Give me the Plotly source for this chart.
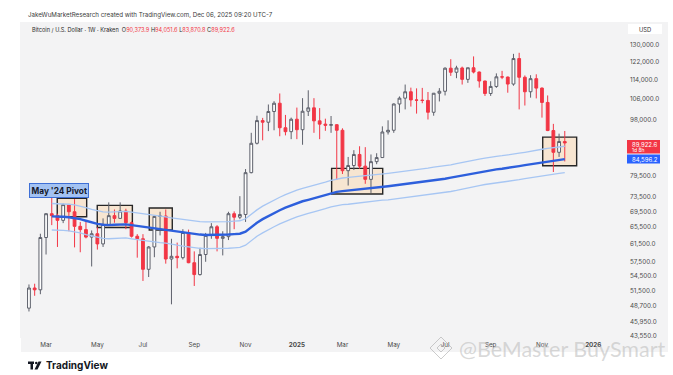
import math
import pandas as pd
import plotly.graph_objects as go

# ---------------- data ----------------
week_start = "2024-02-12"   # first weekly bar
opens = [48300, 52100, 51750, 63000, 68900, 68400, 67200, 71300, 69400, 65700,
         64900, 63100, 63900, 61500, 66200, 68400, 67700, 69600, 66600, 63300,
         62700, 55900, 60800, 68200, 68300, 58100, 58700, 58400, 64200, 57300,
         54800, 59100, 63500, 65600, 62800, 63200, 68900, 68000, 68700, 80400,
         89800, 97800, 97200, 101200, 104400, 95200, 93800, 98300, 94500, 101300,
         102600, 97700, 96500, 96100, 96300, 94300, 81000, 82600, 86100, 82400,
         78400, 83800, 85100, 93700, 94300, 104100, 106400, 109000, 105700, 105600,
         105500, 100900, 108400, 109200, 119100, 117300, 119200, 114200, 119300, 117400,
         113500, 108300, 111200, 115300, 115200, 112200, 123500, 115100, 109000, 114500,
         110500, 104700, 94200, 86800, 90373.9]
highs = [52800, 52950, 63900, 69000, 73800, 68900, 71600, 71500, 72800, 66800,
         67200, 64700, 65500, 67700, 71900, 70000, 71900, 70200, 66950, 63800,
         63800, 61000, 68400, 69400, 70000, 62700, 61800, 65000, 64900, 59800,
         60600, 64100, 66500, 66000, 64500, 69400, 69500, 73600, 81500, 93400,
         99600, 98800, 103900, 105200, 108300, 99900, 98900, 102700, 106400, 109600,
         106400, 102500, 98500, 99500, 96500, 95000, 85300, 87500, 88800, 88500,
         86100, 86500, 95700, 97900, 104300, 107100, 112000, 110700, 110400, 110600,
         108900, 108500, 110500, 119500, 123200, 120200, 119800, 119300, 124500, 117600,
         113600, 113400, 116800, 117900, 115400, 125700, 126200, 115900, 116000, 116400,
         110800, 107500, 96600, 93100, 94051.6]
lows = [47700, 50600, 50900, 59100, 66000, 60800, 66500, 64500, 60700, 59600,
        62800, 56500, 60200, 60800, 66200, 66600, 67600, 65000, 63000, 58400,
        53500, 54300, 58500, 63500, 57100, 49000, 56100, 58000, 57200, 52500,
        54600, 57500, 62700, 59800, 58900, 62400, 65000, 67500, 66800, 80200,
        89400, 90800, 94000, 94300, 92200, 92500, 91200, 91200, 89300, 99500,
        93400, 91200, 94100, 93400, 78200, 80000, 76600, 81200, 81600, 77100,
        74500, 83000, 85100, 92800, 93400, 100700, 102000, 103100, 100400, 104400,
        98200, 99600, 105100, 107500, 115700, 114700, 112000, 112700, 116800, 110700,
        107300, 107300, 110600, 114300, 108600, 111500, 102000, 103500, 106600, 106300,
        98900, 94000, 80600, 85300, 83870.8]
closes = [52100, 51750, 63000, 68900, 68400, 67200, 71300, 69400, 65700, 64900,
          63100, 63900, 61500, 66200, 68400, 67700, 69600, 66600, 63300, 62700,
          55900, 60800, 68200, 68300, 58100, 58700, 58400, 64200, 57300, 54800,
          59100, 63500, 65600, 62800, 63200, 68900, 68000, 68700, 80400, 89800,
          97800, 97200, 101200, 104400, 95200, 93800, 98300, 94500, 101300, 102600,
          97700, 96500, 96100, 96300, 94300, 81000, 82600, 86100, 82400, 78400,
          83800, 85100, 93700, 94300, 104100, 106400, 109000, 105700, 105600, 105500,
          100900, 108400, 109200, 119100, 117300, 119200, 114200, 119300, 117400, 113500,
          108300, 111200, 115300, 115200, 112200, 123500, 115100, 109000, 114500, 110500,
          104700, 94200, 86800, 90400, 89922.6]

band_first_bar = 4   # the band indicator starts on the 5th weekly bar
mid_band_k = [68.2, 68.2, 68.1, 68.0, 67.8, 67.5, 67.1, 66.7, 66.3, 66.1,
              66.0, 66.1, 66.2, 66.2, 66.0, 65.8, 65.6, 65.4, 65.3, 65.1,
              64.9, 64.6, 64.4, 64.2, 64.0, 63.8, 63.7, 63.6, 63.6, 63.6,
              63.6, 63.7, 63.8, 63.9, 64.4, 65.5, 66.6, 67.5, 68.3, 69.1,
              69.8, 70.5, 71.1, 71.7, 72.2, 72.6, 73.0, 73.4, 73.9, 74.4,
              74.8, 75.0, 75.2, 75.4, 75.6, 75.8, 76.0, 76.1, 76.3, 76.4,
              76.6, 76.8, 77.0, 77.2, 77.4, 77.6, 77.9, 78.2, 78.4, 78.6,
              78.9, 79.2, 79.6, 80.0, 80.3, 80.6, 80.9, 81.2, 81.4, 81.6,
              81.8, 82.1, 82.4, 82.7, 83.0, 83.3, 83.6, 83.9, 84.1, 84.4,
              84.6]
upper_band_k = [71.6, 71.6, 71.5, 71.4, 71.2, 70.9, 70.5, 70.0, 69.6, 69.4,
                69.3, 69.4, 69.5, 69.5, 69.3, 69.1, 68.9, 68.7, 68.6, 68.4,
                68.1, 67.8, 67.6, 67.4, 67.2, 67.0, 66.9, 66.8, 66.8, 66.8,
                66.8, 66.9, 67.0, 67.1, 67.6, 68.8, 69.9, 70.9, 71.7, 72.6,
                73.3, 74.0, 74.7, 75.3, 75.8, 76.2, 76.7, 77.1, 77.6, 78.1,
                78.5, 78.8, 79.0, 79.2, 79.4, 79.6, 79.8, 79.9, 80.1, 80.2,
                80.4, 80.6, 80.9, 81.1, 81.3, 81.5, 81.8, 82.1, 82.3, 82.5,
                82.8, 83.2, 83.6, 84.0, 84.3, 84.6, 84.9, 85.3, 85.5, 85.7,
                85.9, 86.2, 86.5, 86.8, 87.2, 87.5, 87.8, 88.1, 88.3, 88.6,
                88.8]
lower_band_k = [64.8, 64.8, 64.7, 64.6, 64.4, 64.1, 63.7, 63.4, 63.0, 62.8,
                62.7, 62.8, 62.9, 62.9, 62.7, 62.5, 62.3, 62.1, 62.0, 61.8,
                61.7, 61.4, 61.2, 61.0, 60.8, 60.6, 60.5, 60.4, 60.4, 60.4,
                60.4, 60.5, 60.6, 60.7, 61.2, 62.2, 63.3, 64.1, 64.9, 65.6,
                66.3, 67.0, 67.5, 68.1, 68.6, 69.0, 69.4, 69.7, 70.2, 70.7,
                71.1, 71.3, 71.4, 71.6, 71.8, 72.0, 72.2, 72.3, 72.5, 72.6,
                72.8, 73.0, 73.2, 73.4, 73.5, 73.7, 74.0, 74.3, 74.5, 74.7,
                74.9, 75.2, 75.6, 76.0, 76.3, 76.6, 76.9, 77.1, 77.3, 77.5,
                77.7, 78.0, 78.3, 78.6, 78.9, 79.1, 79.4, 79.7, 79.9, 80.2,
                80.4]

price_ticks = [43550, 45950, 48700, 51500, 54500, 57500, 61500, 65500, 69500,
               73500, 79500, 98000, 106000, 114000, 122000, 130000]
time_tick_dates = ["2024-03-04", "2024-05-06", "2024-07-01", "2024-09-02", "2024-11-04",
                   "2025-01-06", "2025-03-03", "2025-05-05", "2025-07-07", "2025-09-01",
                   "2025-11-03", "2026-01-05"]
time_tick_labels = ["Mar", "May", "Jul", "Sep", "Nov", "<b>2025</b>", "Mar", "May", "Jul",
                    "Sep", "Nov", "<b>2026</b>"]

# analyst's pivot zones: (start, end, top price, bottom price)
pivot_zones = [("2024-03-17 18:00", "2024-04-22 21:00", 73000, 68100),
               ("2024-05-05 21:00", "2024-06-18 00:00", 71100, 65400),
               ("2024-07-08 17:00", "2024-08-06 00:00", 70400, 64800),
               ("2025-02-17 17:00", "2025-04-21 10:00", 81700, 74200),
               ("2025-11-03 22:00", "2025-12-15 14:00", 91900, 82500)]

last_close = 89922.6
band_last_value = 84596.2

# ---------------- figure ----------------
W, H = 673, 375
L, R, T, B = 20, 612, 22, 338   # plot area pixel edges
Y_LO, Y_HI = math.log10(43170), math.log10(141700)
dates = pd.date_range(week_start, periods=len(opens), freq="7D")
band_dates = dates[band_first_bar:]


def px(x):
    return (x - L) / (R - L)


def py(y):
    return (B - y) / (B - T)


def pprice(p):
    return (math.log10(p) - Y_LO) / (Y_HI - Y_LO)


PANEL = "#f3f3f4"
fig = go.Figure()

fig.add_trace(go.Scatter(x=band_dates, y=[v * 1000 for v in upper_band_k], mode="lines",
                         line=dict(color="#a7c6f3", width=1.3), hoverinfo="skip"))
fig.add_trace(go.Scatter(x=band_dates, y=[v * 1000 for v in lower_band_k], mode="lines",
                         line=dict(color="#a7c6f3", width=1.3), hoverinfo="skip"))
fig.add_trace(go.Scatter(x=band_dates, y=[v * 1000 for v in mid_band_k], mode="lines",
                         line=dict(color="#2d5fdc", width=2.4), hoverinfo="skip"))
fig.add_trace(go.Candlestick(
    x=dates, open=opens, high=highs, low=lows, close=closes,
    increasing=dict(line=dict(color="#5d606b", width=1), fillcolor="#ffffff"),
    decreasing=dict(line=dict(color="#f23645", width=1), fillcolor="#f23645"),
    whiskerwidth=0, hoverinfo="skip"))

shapes = []
# chart panel background (incl. price & time scales)
shapes.append(dict(type="rect", xref="paper", yref="paper", x0=px(21), x1=px(668),
                   y0=py(352), y1=py(22), fillcolor=PANEL, line=dict(width=0), layer="below"))
for s, e, top, bot in pivot_zones:
    shapes.append(dict(type="rect", xref="x", yref="paper", x0=s, x1=e,
                       y0=pprice(bot), y1=pprice(top),
                       fillcolor="rgba(250,220,185,0.6)",
                       line=dict(color="#262626", width=1.4), layer="below"))
# price labels on the scale
shapes.append(dict(type="rect", xref="paper", yref="paper", x0=px(627), x1=px(660),
                   y0=py(153.5), y1=py(140), fillcolor="#f23645", line=dict(width=0)))
shapes.append(dict(type="rect", xref="paper", yref="paper", x0=px(627), x1=px(660),
                   y0=py(163.5), y1=py(154.5), fillcolor="#2962ff", line=dict(width=0)))
shapes.append(dict(type="rect", xref="paper", yref="paper", x0=px(628), x1=px(662),
                   y0=py(34), y1=py(24), fillcolor="#ffffff", line=dict(width=0)))
# Binance-style watermark glyph
cx, cy, r = 441, 348, 11
shapes.append(dict(type="path", xref="paper", yref="paper",
                   path=f"M {px(cx)},{py(cy - r)} L {px(cx + r)},{py(cy)} L {px(cx)},{py(cy + r)} L {px(cx - r)},{py(cy)} Z",
                   line=dict(color="rgba(170,170,170,0.6)", width=1)))
shapes.append(dict(type="path", xref="paper", yref="paper",
                   path=f"M {px(cx)},{py(cy - 4)} L {px(cx + 4)},{py(cy)} L {px(cx)},{py(cy + 4)} L {px(cx - 4)},{py(cy)} Z",
                   line=dict(color="rgba(170,170,170,0.6)", width=1)))
# TradingView logo glyph
shapes.append(dict(type="rect", xref="paper", yref="paper", x0=px(28), x1=px(34),
                   y0=py(364), y1=py(361.5), fillcolor="#131722", line=dict(width=0)))
shapes.append(dict(type="rect", xref="paper", yref="paper", x0=px(30.5), x1=px(33),
                   y0=py(369.5), y1=py(362), fillcolor="#131722", line=dict(width=0)))
shapes.append(dict(type="circle", xref="paper", yref="paper", x0=px(35), x1=px(37.5),
                   y0=py(364.3), y1=py(361.8), fillcolor="#131722", line=dict(width=0)))
shapes.append(dict(type="path", xref="paper", yref="paper",
                   path=f"M {px(38.5)},{py(361.5)} L {px(41.5)},{py(361.5)} L {px(37.5)},{py(369.5)} L {px(34.5)},{py(369.5)} Z",
                   fillcolor="#131722", line=dict(width=0)))

FONT = "Inter, Roboto, Arial, sans-serif"
ann = []
ann.append(dict(xref="paper", yref="paper", x=px(26), y=py(15.5), xanchor="left", yanchor="middle",
                text="JakeWuMarketResearch created with TradingView.com, Dec 06, 2025 09:20 UTC-7",
                showarrow=False, font=dict(size=6.2, color="#3a3a3a", family=FONT)))
red = "#f23645"
ann.append(dict(xref="paper", yref="paper", x=px(30), y=py(29.3), xanchor="left", yanchor="middle",
                text=("Bitcoin / U.S. Dollar · 1W · Kraken  "
                      f"O<span style='color:{red}'>90,373.9</span> H<span style='color:{red}'>94,051.6</span> "
                      f"L<span style='color:{red}'>83,870.8</span> C<span style='color:{red}'>89,922.6</span>"),
                showarrow=False, font=dict(size=5.6, color="#2a2a2a", family=FONT)))
ann.append(dict(xref="paper", yref="paper", x=px(645), y=py(29), xanchor="center", yanchor="middle",
                text="USD", showarrow=False, font=dict(size=5.8, color="#333", family=FONT)))
ann.append(dict(xref="paper", yref="paper", x=px(629.5), y=py(144), xanchor="left", yanchor="middle",
                text=f"{last_close:,.1f}", showarrow=False,
                font=dict(size=6, color="#ffffff", family=FONT)))
ann.append(dict(xref="paper", yref="paper", x=px(629.5), y=py(150), xanchor="left", yanchor="middle",
                text="1d 8h", showarrow=False, font=dict(size=5, color="#ffffff", family=FONT)))
ann.append(dict(xref="paper", yref="paper", x=px(629.5), y=py(159), xanchor="left", yanchor="middle",
                text=f"{band_last_value:,.1f}", showarrow=False,
                font=dict(size=6, color="#ffffff", family=FONT)))
ann.append(dict(xref="paper", yref="paper", x=px(28.5), y=py(190.8), xanchor="left", yanchor="middle",
                text="<b>May '24 Pivot</b>", showarrow=False, bgcolor="#a3c2f2",
                bordercolor="#3e6fd6", borderwidth=1, borderpad=1.5,
                font=dict(size=8.3, color="#15192b", family=FONT)))
ann.append(dict(xref="paper", yref="paper", x=px(44), y=py(365.5), xanchor="left", yanchor="middle",
                text="<b>TradingView</b>", showarrow=False,
                font=dict(size=10, color="#131722", family=FONT)))
ann.append(dict(xref="paper", yref="paper", x=px(457), y=py(348.5), xanchor="left", yanchor="middle",
                text="@BeMaster BuySmart", showarrow=False,
                font=dict(size=21.5, color="rgba(185,185,185,0.55)", family="Lato, Open Sans, sans-serif")))

fig.update_layout(
    width=W, height=H, autosize=False,
    margin=dict(l=L, r=W - R, t=T, b=H - B, pad=0),
    paper_bgcolor="#ffffff", plot_bgcolor=PANEL,
    showlegend=False, shapes=shapes, annotations=ann,
    hovermode=False,
)
fig.update_xaxes(type="date", range=["2024-02-01", "2026-01-28"],
                 rangeslider=dict(visible=False), showgrid=False, zeroline=False,
                 showline=False, tickmode="array", tickvals=time_tick_dates,
                 ticktext=time_tick_labels, ticks="", ticklabelstandoff=2,
                 tickfont=dict(size=6.3, color="#4a4a4a", family=FONT))
fig.update_yaxes(type="log", side="right",
                 range=[Y_LO, Y_HI],
                 showgrid=False, zeroline=False, showline=False,
                 tickmode="array", tickvals=price_ticks,
                 ticktext=[f"{v:,.1f}" for v in price_ticks], ticks="",
                 ticklabelstandoff=17,
                 tickfont=dict(size=6.3, color="#4a4a4a", family=FONT))

fig.write_html("out.html", config={"displayModeBar": False},
               post_script="document.body.style.margin='0';document.body.style.overflow='hidden';")
